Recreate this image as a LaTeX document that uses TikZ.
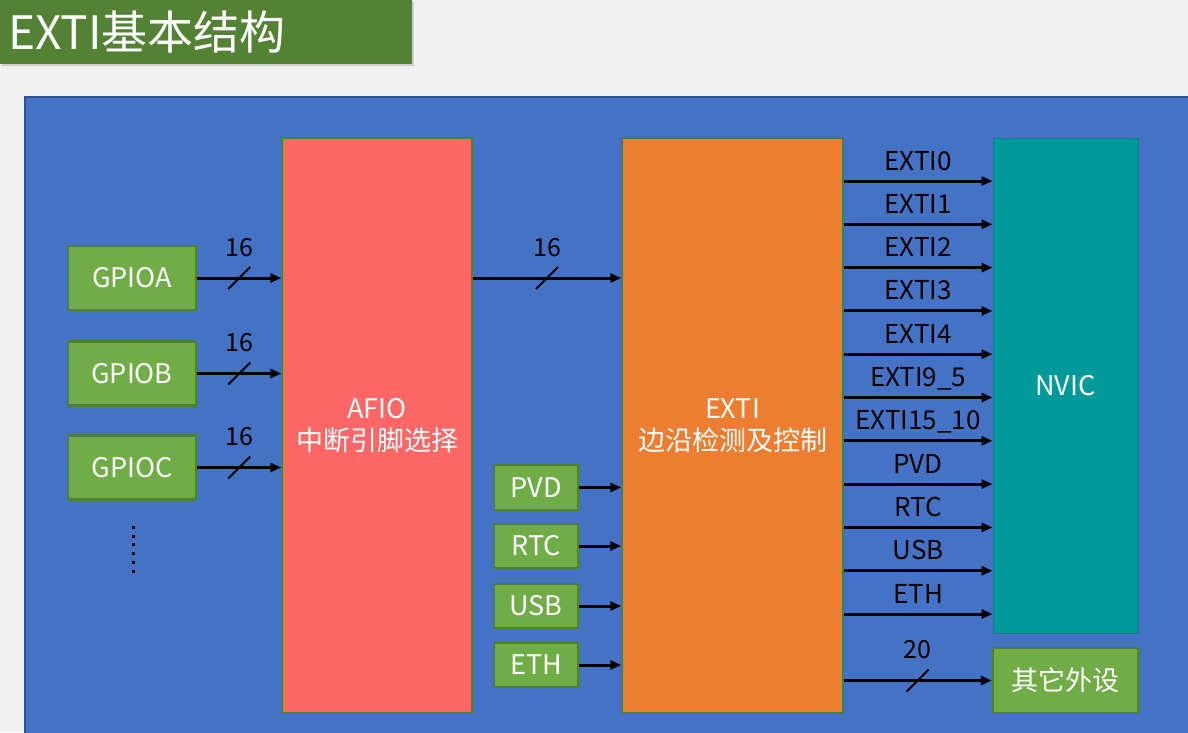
\documentclass[tikz,border=0pt]{standalone}
\usepackage{fontspec}
\setmainfont{Noto Sans CJK SC}
\usetikzlibrary{arrows.meta, positioning, shadows, decorations.markings}

\definecolor{pagegrey}{HTML}{F0F0F0}
\definecolor{panelblue}{HTML}{4472C4}
\definecolor{paneledge}{HTML}{2F528F}
\definecolor{titlegreen}{HTML}{548235}
\definecolor{boxgreen}{HTML}{70AD47}
\definecolor{boxedge}{HTML}{507E32}
\definecolor{afiored}{HTML}{FF6666}
\definecolor{extiorange}{HTML}{ED7D31}
\definecolor{nvicteal}{HTML}{009999}

\tikzset{
    srcbox/.style={draw=boxedge, fill=boxgreen, line width=2.5pt, text=white,
        inner sep=0pt, font=\fontsize{27}{30}\selectfont},
    bigblock/.style={draw=boxedge, line width=1.5pt, text=white, inner sep=0pt,
        align=center, font=\fontsize{27}{32}\selectfont},
    sig/.style={line width=3pt, -{Triangle[length=11pt, width=9pt]}},
    bus/.style={sig, postaction={decorate, decoration={markings,
        mark=at position 0.5 with {\draw[-, line width=2pt] (-11pt,-11pt) -- (11pt,11pt);}}}},
    lab/.style={midway, anchor=base, yshift=11pt, inner sep=0pt,
        font=\fontsize{26}{30}\selectfont},
    buslab/.style={midway, anchor=base, yshift=22pt, inner sep=0pt,
        font=\fontsize{25}{28}\selectfont},
}

\begin{document}
\begin{tikzpicture}[x=1pt, y=-1pt]
\useasboundingbox (0,0) rectangle (1188,732);
\fill[pagegrey] (0,0) rectangle (1188,732);

% title and panel
\node[fill=titlegreen, text=white, anchor=west, inner sep=8pt, text width=396pt,
      minimum height=64pt, font=\fontsize{46}{50}\selectfont,
      drop shadow={shadow xshift=2pt, shadow yshift=-2pt, opacity=0.3}]
      (title) at (0,32) {EXTI基本结构};
\path[draw=paneledge, fill=panelblue, line width=1.5pt] (25,97) rectangle (1210,760);

% blocks
\node[srcbox, minimum width=128pt, minimum height=64pt] (gpioa) at (132,278) {GPIOA};
\node[srcbox, minimum width=128pt, minimum height=64pt] (gpiob) at (132,373.5) {GPIOB};
\node[srcbox, minimum width=128pt, minimum height=64pt] (gpioc) at (132,467.5) {GPIOC};
\node[bigblock, fill=afiored, minimum width=190pt, minimum height=575pt] (afio) at (377,425.5) {AFIO\\中断引脚选择};
\node[bigblock, fill=extiorange, minimum width=221pt, minimum height=575pt] (exti) at (732.5,425.5) {EXTI\\边沿检测及控制};
\node[srcbox, minimum width=84pt, minimum height=45pt] (pvd) at (536,487.5) {PVD};
\node[srcbox, minimum width=84pt, minimum height=44pt] (rtc) at (536,546) {RTC};
\node[srcbox, minimum width=84pt, minimum height=44pt] (usb) at (536,606) {USB};
\node[srcbox, minimum width=84pt, minimum height=44pt] (eth) at (536,665) {ETH};
\node[draw=paneledge!50!nvicteal, line width=1pt, fill=nvicteal, text=white,
      minimum width=145pt, minimum height=495pt, font=\fontsize{27}{30}\selectfont]
      (nvic) at (1065.5,385.5) {NVIC};
\node[srcbox, minimum width=145pt, minimum height=65pt, font=\fontsize{27}{30}\selectfont]
      (other) at (1065.5,680.5) {其它外设};

% GPIO ports to AFIO
\foreach \port in {gpioa, gpiob, gpioc}
    \draw[bus] (\port.east) -- node[buslab] {16} (\port.east -| afio.west);
\coordinate (more) at (133,526);
\draw[line width=3pt, dash pattern=on 3pt off 5.7pt] (more) -- ++(0,47);

% AFIO to EXTI
\draw[bus] (afio.east |- gpioa) -- node[buslab] {16} (exti.west |- gpioa);

% other sources to EXTI
\foreach \src in {pvd, rtc, usb, eth}
    \draw[sig] (\src.east) -- (\src.east -| exti.west);

% EXTI lines to NVIC
\foreach \line [count=\i] in {EXTI0, EXTI1, EXTI2, EXTI3, EXTI4, EXTI9\_5,
        EXTI15\_10, PVD, RTC, USB, ETH}
    \draw[sig] (exti.east |- 0,{181+(\i-1)*43.3}) -- node[lab] {\line}
        (nvic.west |- 0,{181+(\i-1)*43.3});

% EXTI to other peripherals
\draw[bus] (exti.east |- other) -- node[buslab] {20} (other.west);
\end{tikzpicture}
\end{document}
